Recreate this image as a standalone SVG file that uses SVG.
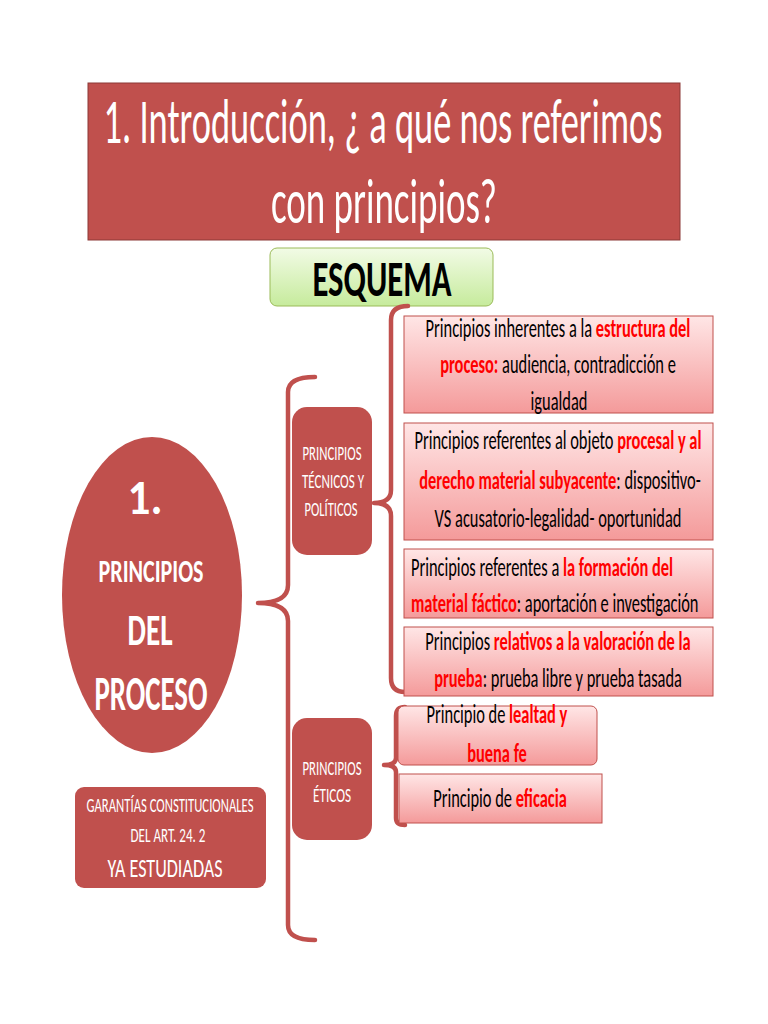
<svg xmlns="http://www.w3.org/2000/svg" width="768" height="1024" viewBox="0 0 768 1024">
<defs>
<linearGradient id="pink" x1="0" y1="0" x2="0" y2="1"><stop offset="0" stop-color="#ffe6e6"/><stop offset="1" stop-color="#f49a9a"/></linearGradient>
<linearGradient id="green" x1="0" y1="0" x2="0" y2="1"><stop offset="0" stop-color="#f2fbe6"/><stop offset="1" stop-color="#c6eb9c"/></linearGradient>
<style>
text{font-family:Carlito,"Liberation Sans Narrow","Liberation Sans",sans-serif;text-anchor:middle}
.w{fill:#fff}
.k{fill:#000;font-size:16.4px}
.s{text-anchor:start}
.r{fill:#ff0000;font-weight:bold}
.red{fill:#c0504d}
.pink{fill:url(#pink);stroke:#c0504d;stroke-width:1}
.brace{fill:none;stroke:#c0504d;stroke-width:4.5;stroke-linecap:round;stroke-linejoin:round}
</style>
</defs>
<rect width="768" height="1024" fill="#fff"/>
<g id="title">
<rect x="88" y="83" width="592" height="157" class="red" stroke="#8c3836" stroke-width="1"/>
<text transform="translate(383,143) scale(1,1.5)" class="w" font-size="42" textLength="559" lengthAdjust="spacingAndGlyphs">1. Introducción, ¿ a qué nos referimos</text>
<text transform="translate(384,223) scale(1,1.5)" class="w" font-size="42" textLength="226" lengthAdjust="spacingAndGlyphs">con principios?</text>
</g>
<g id="esquema">
<rect x="270" y="248" width="223" height="58" rx="7" fill="url(#green)" stroke="#9bbb59" stroke-width="1"/>
<text transform="translate(382,296) scale(1,1.55)" font-size="33" font-weight="bold" fill="#000" textLength="139" lengthAdjust="spacingAndGlyphs">ESQUEMA</text>
</g>
<g id="connectors">
<path class="brace" d="M315,377 Q288,377 288,392 L288,585 Q288,603 258,603 Q288,603 288,621 L288,925 Q288,940 315,940"/>
<path class="brace" d="M408,306 Q391,306 391,320 L391,490 Q391,503 374,503 Q391,503 391,516 L391,678 Q391,692 405,692"/>
<path class="brace" d="M405,707 Q396,707 396,716 L396,758 Q396,765 384,765 Q396,765 396,772 L396,818 Q396,825 405,825"/>
</g>
<g id="circle">
<ellipse cx="152" cy="595" rx="90" ry="158" class="red"/>
<text transform="translate(145,514) scale(1,1.3)" class="w" font-size="38" font-weight="bold" textLength="35" lengthAdjust="spacingAndGlyphs">1.</text>
<text transform="translate(151,582) scale(1,1.35)" class="w" font-size="24" font-weight="bold" textLength="105" lengthAdjust="spacingAndGlyphs">PRINCIPIOS</text>
<text transform="translate(150,645) scale(1,1.5)" class="w" font-size="30" font-weight="bold" textLength="45" lengthAdjust="spacingAndGlyphs">DEL</text>
<text transform="translate(151,710) scale(1,1.45)" class="w" font-size="34" font-weight="bold" textLength="113" lengthAdjust="spacingAndGlyphs">PROCESO</text>
</g>
<g id="garantias">
<rect x="75" y="787" width="191" height="101" rx="9" class="red"/>
<text transform="translate(170,812) scale(1,1.4)" class="w" font-size="15" textLength="167" lengthAdjust="spacingAndGlyphs">GARANTÍAS CONSTITUCIONALES</text>
<text transform="translate(168,842) scale(1,1.4)" class="w" font-size="15" textLength="75" lengthAdjust="spacingAndGlyphs">DEL ART. 24. 2</text>
<text transform="translate(165,877) scale(1,1.35)" class="w" font-size="20" textLength="115" lengthAdjust="spacingAndGlyphs">YA ESTUDIADAS</text>
</g>
<g id="tecnicos">
<rect x="292" y="407" width="80" height="148" rx="15" class="red"/>
<text transform="translate(332,460) scale(1,1.5)" class="w" font-size="13" textLength="59" lengthAdjust="spacingAndGlyphs">PRINCIPIOS</text>
<text transform="translate(333,488) scale(1,1.5)" class="w" font-size="13" textLength="62" lengthAdjust="spacingAndGlyphs">TÉCNICOS Y</text>
<text transform="translate(331,516) scale(1,1.5)" class="w" font-size="13" textLength="53" lengthAdjust="spacingAndGlyphs">POLÍTICOS</text>
</g>
<g id="eticos">
<rect x="292" y="718" width="80" height="122" rx="15" class="red"/>
<text transform="translate(332,775) scale(1,1.5)" class="w" font-size="13" textLength="59" lengthAdjust="spacingAndGlyphs">PRINCIPIOS</text>
<text transform="translate(332,802) scale(1,1.5)" class="w" font-size="13" textLength="38" lengthAdjust="spacingAndGlyphs">ÉTICOS</text>
</g>
<g id="box1">
<rect x="404" y="316" width="309" height="97" class="pink"/>
<text transform="translate(558,337) scale(1,1.6)" class="k">Principios inherentes a la <tspan class="r">estructura del</tspan></text>
<text transform="translate(558,373) scale(1,1.6)" class="k"><tspan class="r">proceso:</tspan> audiencia, contradicción e</text>
<text transform="translate(559,410) scale(1,1.6)" class="k">igualdad</text>
</g>
<g id="box2">
<rect x="404" y="423" width="309" height="117" class="pink"/>
<text transform="translate(558,449) scale(1,1.6)" class="k">Principios referentes al objeto <tspan class="r">procesal y al</tspan></text>
<text transform="translate(560,489) scale(1,1.6)" class="k"><tspan class="r">derecho material subyacente</tspan>: dispositivo-</text>
<text transform="translate(558,527) scale(1,1.6)" class="k">VS acusatorio-legalidad- oportunidad</text>
</g>
<g id="box3">
<rect x="404" y="549" width="309" height="69" class="pink"/>
<text transform="translate(411,576) scale(1,1.6)" class="k s">Principios referentes a <tspan class="r">la formación del</tspan></text>
<text transform="translate(411,612) scale(1,1.6)" class="k s"><tspan class="r">material fáctico</tspan>: aportación e investigación</text>
</g>
<g id="box4">
<rect x="404" y="627" width="309" height="69" class="pink"/>
<text transform="translate(558,650) scale(1,1.6)" class="k">Principios <tspan class="r">relativos a la valoración de la</tspan></text>
<text transform="translate(558,687) scale(1,1.6)" class="k"><tspan class="r">prueba</tspan>: prueba libre y prueba tasada</text>
</g>
<g id="box5">
<rect x="398" y="706" width="199" height="59" rx="6" class="pink"/>
<text transform="translate(497,723) scale(1,1.6)" class="k">Principio de <tspan class="r">lealtad y</tspan></text>
<text transform="translate(497,762) scale(1,1.6)" class="k r">buena fe</text>
</g>
<g id="box6">
<rect x="399" y="774" width="203" height="49" class="pink"/>
<text transform="translate(500,807) scale(1,1.6)" class="k">Principio de <tspan class="r">eficacia</tspan></text>
</g>
</svg>
